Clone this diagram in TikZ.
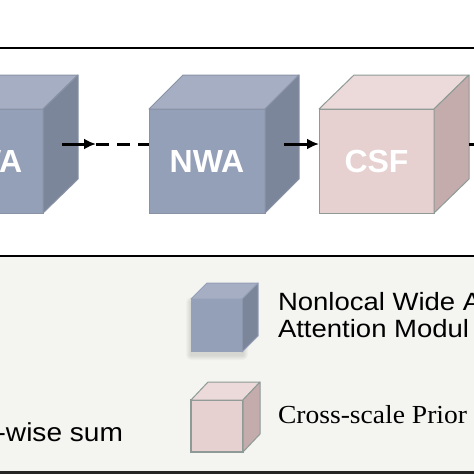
\documentclass[tikz,border=0pt]{standalone}
\usepackage{fontspec}
\setmainfont{Liberation Sans}
\newfontfamily\timesfont{Liberation Serif}
\usetikzlibrary{arrows.meta}
\definecolor{bfront}{HTML}{949FB8}
\definecolor{btop}{HTML}{A5AEC3}
\definecolor{bside}{HTML}{7C869B}
\definecolor{bedge}{HTML}{8A93A6}
\definecolor{pfront}{HTML}{E6D0D0}
\definecolor{ptop}{HTML}{EBDAD9}
\definecolor{pside}{HTML}{C5ACAC}
\definecolor{pedge}{HTML}{8E9A96}
\definecolor{panelbg}{HTML}{F4F4F1}
\newcommand{\cubefaces}[6]{%
  \filldraw[fill=#4,draw=#6,line width=1pt,line join=round] (#1.north west) -- ++(#2,-#3) -- ([shift={(#2,-#3)}]#1.north east) -- (#1.north east) -- cycle;
  \filldraw[fill=#5,draw=#6,line width=1pt,line join=round] (#1.north east) -- ([shift={(#2,-#3)}]#1.north east) -- ([shift={(#2,-#3)}]#1.south east) -- (#1.south east) -- cycle;
}
\tikzset{
  frontbox/.style={rectangle, outer sep=0pt, inner sep=0pt, line width=1pt, text=white,
    font=\bfseries\fontsize{32}{38}\selectfont},
  bluefront/.style={frontbox, fill=bfront, draw=bedge},
  pinkfront/.style={frontbox, fill=pfront, draw=pedge},
  arr/.style={line width=3pt, -{Latex[length=12pt,width=11pt]}},
  dashline/.style={line width=3pt, dash pattern=on 13pt off 8pt},
  rule/.style={line width=2pt, draw=black},
  legtext/.style={inner sep=0pt, outer sep=0pt, anchor=base west, font=\fontsize{25}{30}\selectfont},
}
\begin{document}
\begin{tikzpicture}[x=1pt,y=-1pt]
\useasboundingbox (0,0) rectangle (474,474);
\clip (0,0) rectangle (474,474);
\fill[white] (0,0) rectangle (474,256);
\fill[panelbg] (0,256) rectangle (474,474);
\draw[rule] (0,48) -- (474,48);
\draw[rule, line width=2.2pt] (0,256) -- (474,256);
\draw[line width=3pt, draw=black!85] (0,472.5) -- (474,472.5);

% top row cubes
\node[bluefront, minimum width=116pt, minimum height=104pt] (c1) at (-15,161) {NWA};
\cubefaces{c1}{35}{34}{btop}{bside}{bedge}
\node[bluefront, minimum width=116pt, minimum height=104pt] (nwa) at (207,161) {NWA};
\cubefaces{nwa}{34}{34}{btop}{bside}{bedge}
\node[pinkfront, minimum width=115pt, minimum height=104pt] (csf) at (376.5,161) {CSF};
\cubefaces{csf}{35}{34}{ptop}{pside}{pedge}

% connectors
\coordinate (r1) at ([shift={(19,-17)}]c1.east);
\coordinate (m1) at ([xshift=34pt]r1);
\draw[arr] (r1) -- (m1);
\draw[dashline] (m1) -- (nwa.west |- m1);
\coordinate (r2) at ([shift={(19,-17)}]nwa.east);
\draw[arr] (r2) -- (csf.west |- r2);
\coordinate (r3) at ([shift={(35,-17)}]csf.east);
\coordinate (out) at ([xshift=12pt]r3);
\draw[line width=3pt] (r3) -- (out);

% legend
\foreach \e in {1,2,3,4,5} {
  \fill[black, opacity=0.025, rounded corners=\e pt] (191-\e,302-\e) rectangle (243+\e,355+\e);
}
\node[bluefront, draw=none, minimum width=51pt, minimum height=53pt] (lg1) at (216.5,325.5) {};
\cubefaces{lg1}{16}{16}{btop}{bside}{bfront}
\node[pinkfront, line width=1.5pt, minimum width=52pt, minimum height=52pt] (lg2) at (217,426) {};
\cubefaces{lg2}{17}{18}{ptop}{pside}{pedge}

\node[legtext] (t1) at (278,310) {\scalebox{1.1}[1]{Nonlocal Wide A}};
\node[legtext] (t2) at (278,337) {\scalebox{1.1}[1]{Attention Modul}};
\node[legtext, font=\timesfont\fontsize{26}{31}\selectfont] (t3) at (278,423) {\scalebox{1.06}[1]{Cross-scale Prior}};
\node[legtext, anchor=base east, font=\fontsize{26}{31}\selectfont] (t4) at (123,441) {\scalebox{1.08}[1]{-wise sum}};
\end{tikzpicture}
\end{document}
